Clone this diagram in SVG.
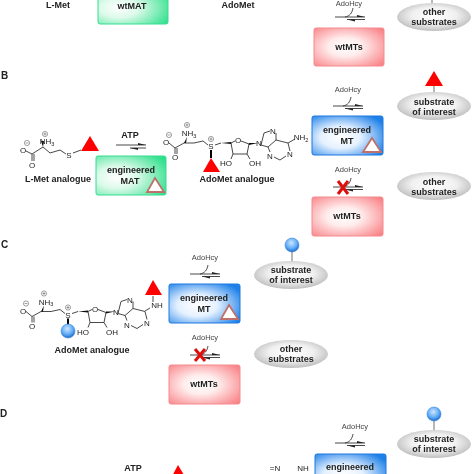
<svg xmlns="http://www.w3.org/2000/svg" xmlns:xlink="http://www.w3.org/1999/xlink" width="474" height="474" viewBox="0 0 474 474">
<style>
.t{font:bold 9px "Liberation Sans",Arial,sans-serif;fill:#222;text-anchor:middle}
.p{font:bold 10px "Liberation Sans",Arial,sans-serif;fill:#222}
.s{font:7.5px "Liberation Sans",Arial,sans-serif;fill:#444;text-anchor:middle}
.a{font:8px "Liberation Sans",Arial,sans-serif;fill:#222;text-anchor:middle}
.b{fill:none;stroke:#333;stroke-width:.9}
.line{fill:none;stroke:#333;stroke-width:.9}
.stem{stroke:#999;stroke-width:1.4}
.red{fill:#f00}
.tri{fill:#fff;stroke:#c0706a;stroke-width:1.8}
.x{fill:none;stroke:#e01010;stroke-width:3}
.bg{stroke:#38dc90;stroke-width:1}
.br{stroke:#f58a8e;stroke-width:1}
.bb{stroke:#1e78e0;stroke-width:1}
</style>
<defs>
<filter id="soft" x="0" y="0" width="1" height="1" filterUnits="objectBoundingBox"><feGaussianBlur stdDeviation="0.4"/></filter>
<radialGradient id="gGreen" cx=".3" cy=".55" r=".8"><stop offset="0" stop-color="#fff"/><stop offset=".35" stop-color="#dcfaea"/><stop offset="1" stop-color="#2fe08c"/></radialGradient>
<radialGradient id="gRed" cx=".45" cy=".5" r=".7"><stop offset="0" stop-color="#fff"/><stop offset=".35" stop-color="#ffecec"/><stop offset="1" stop-color="#f98085"/></radialGradient>
<radialGradient id="gBlue" cx=".4" cy=".55" r=".7"><stop offset="0" stop-color="#fff"/><stop offset=".4" stop-color="#e4f1ff"/><stop offset="1" stop-color="#1e80e8"/></radialGradient>
<radialGradient id="gGray" cx=".5" cy=".45" r=".55"><stop offset="0" stop-color="#fff"/><stop offset=".55" stop-color="#f0f0f0"/><stop offset="1" stop-color="#bfbfbf"/></radialGradient>
<radialGradient id="gBall" cx=".45" cy=".35" r=".6"><stop offset="0" stop-color="#cfe6ff"/><stop offset=".7" stop-color="#5aa8f5"/><stop offset="1" stop-color="#2a74d0"/></radialGradient>
<g id="arrow">
<path class="line" d="M0 0H20L30 0M30 2.5H12"/>
<path d="M30 0l-8-2v2zM12 2.5l8 2v-2z" fill="#222"/>
<path class="line" d="M10 0C15 -1 17 -4 18 -9"/>
</g>
<g id="arrowAtp">
<path class="line" d="M0 0H30M30 3H14"/>
<path d="M30 0l-8-2v2zM14 3l8 2v-2z" fill="#222"/>
</g>
<g id="ball"><circle r="7" fill="url(#gBall)" stroke="#3a86dd" stroke-width=".6"/></g>
<g id="minus"><circle r="2.6" fill="none" stroke="#444" stroke-width=".5"/><path d="M-1.5 0H1.5" stroke="#444" stroke-width=".5"/></g>
<g id="plus"><circle r="2.6" fill="none" stroke="#444" stroke-width=".5"/><path d="M-1.5 0H1.5M0 -1.5V1.5" stroke="#444" stroke-width=".5"/></g>
<g id="adomet">
<path class="b" d="M169 143L175 148L184 143L194 143L203 141L208 145M175 148V154M177 148V154M215 145L221 143M231 143L235 141M241 141L249 144M231 143L233 154L247 154L249 144M233 154L231 159M247 154L250 159M264 133L270 131M276 133L276 140L268 147L261 145L264 133M268 147L270 152M274 157L280 160L286 156M290 151L288 143L276 140"/>
<path d="M221 143L231 142L231 144zM249 143L258 143L249 145zM184 143L187 137L186 143z" fill="#111"/>
<path d="M211 150V158" stroke="#000" stroke-width="2"/>
<text class="a" x="166" y="145">O</text>
<text class="a" x="175" y="160">O</text>
<text class="a" x="189" y="136">NH<tspan font-size="5.5" dy="1.5">3</tspan></text>
<text class="a" x="211" y="149">S</text>
<text class="a" x="238" y="143">O</text>
<text class="a" x="259" y="146">N</text>
<text class="a" x="273" y="134">N</text>
<text class="a" x="270" y="159">N</text>
<text class="a" x="290" y="157">N</text>
<text class="a" x="226" y="166">HO</text>
<text class="a" x="255" y="166">OH</text>
<use xlink:href="#minus" href="#minus" x="169" y="135"/>
<use xlink:href="#plus" href="#plus" x="187" y="125"/>
<use xlink:href="#plus" href="#plus" x="211" y="139"/>
</g>
</defs>
<rect width="474" height="474" fill="#fff"/>
<g filter="url(#soft)">
<rect width="474" height="474" fill="#fff"/>

<g id="labels">
<text class="p" x="1" y="79">B</text>
<text class="p" x="1" y="248">C</text>
<text class="p" x="0" y="417">D</text>
</g>

<g id="connectors">
<use xlink:href="#arrow" href="#arrow" x="335" y="17"/>
<path class="stem" d="M432 0V5"/>
<use xlink:href="#arrowAtp" href="#arrowAtp" x="116" y="145"/>
<use xlink:href="#arrow" href="#arrow" x="333" y="106"/>
<path class="stem" d="M434 86V95"/>
<use xlink:href="#arrow" href="#arrow" x="333" y="187"/>
<use xlink:href="#arrow" href="#arrow" x="190" y="274"/>
<path class="stem" d="M292 250V262"/>
<use xlink:href="#arrow" href="#arrow" x="190" y="355"/>
<use xlink:href="#arrow" href="#arrow" x="335" y="443"/>
<path class="stem" d="M434 420V432"/>
</g>

<g id="panelA">
<text class="t" x="58" y="8">L-Met</text>
<g id="wtMAT"><rect class="bg" x="98" y="-12" width="70" height="36" rx="2" fill="url(#gGreen)"/><text class="t" x="132" y="9">wtMAT</text></g>
<text class="t" x="238" y="8">AdoMet</text>
<text class="s" x="349" y="6">AdoHcy</text>
<g id="wtMTsA"><rect class="br" x="314" y="28" width="70" height="38" rx="2" fill="url(#gRed)"/><text class="t" x="349" y="50">wtMTs</text></g>
<g id="otherA"><ellipse cx="434" cy="17" rx="37" ry="14" fill="url(#gGray)"/><text class="t" x="434" y="15">other</text><text class="t" x="434" y="25">substrates</text></g>
</g>

<g id="panelB">
<g id="lmetAnalogue">
<path class="b" d="M26 151L32 154L43 147L50 153L60 150L66 154M32 154V161M34 154V161M73 153L81 150"/>
<path d="M43 147L41 141L44 141z" fill="#111"/>
<text class="a" x="23" y="153">O</text>
<text class="a" x="32" y="168">O</text>
<text class="a" x="47" y="144">NH<tspan font-size="5.5" dy="1.5">3</tspan></text>
<text class="a" x="69" y="158">S</text>
<use xlink:href="#minus" href="#minus" x="27" y="143"/>
<use xlink:href="#plus" href="#plus" x="45" y="134"/>
<path class="red" d="M90 136L81 151H99z"/>
<text class="t" x="58" y="182">L-Met analogue</text>
</g>
<text class="t" x="130" y="138">ATP</text>
<g id="engMAT"><rect class="bg" x="96" y="156" width="70" height="39" rx="2" fill="url(#gGreen)"/><text class="t" x="131" y="173">engineered</text><text class="t" x="130" y="184">MAT</text><path class="tri" d="M155 178L147 192H164z"/></g>
<g id="adometB">
<use xlink:href="#adomet" href="#adomet"/>
<path class="b" d="M288 143L295 139"/>
<text class="a" x="301" y="140">NH<tspan font-size="5.5" dy="1.5">2</tspan></text>
<path class="red" d="M211 158L203 172H220z"/>
<text class="t" x="237" y="182">AdoMet analogue</text>
</g>
<text class="s" x="348" y="92">AdoHcy</text>
<g id="engMTB"><rect class="bb" x="312" y="116" width="71" height="39" rx="2" fill="url(#gBlue)"/><text class="t" x="347" y="133">engineered</text><text class="t" x="347" y="144">MT</text><path class="tri" d="M372 138L363 152H381z"/></g>
<text class="s" x="348" y="172">AdoHcy</text>
<path class="x" d="M338 181L348 194M348 181L338 194"/>
<g id="wtMTsB"><rect class="br" x="312" y="197" width="71" height="39" rx="2" fill="url(#gRed)"/><text class="t" x="347" y="219">wtMTs</text></g>
<path class="red" d="M434 71L425 86H443z"/>
<g id="subB"><ellipse cx="434" cy="106" rx="37" ry="14" fill="url(#gGray)"/><text class="t" x="434" y="105">substrate</text><text class="t" x="434" y="115">of interest</text></g>
<g id="otherB"><ellipse cx="434" cy="186" rx="37" ry="14" fill="url(#gGray)"/><text class="t" x="434" y="185">other</text><text class="t" x="434" y="195">substrates</text></g>
</g>

<g id="panelC">
<g id="adometC">
<use xlink:href="#adomet" href="#adomet" transform="translate(-143 168.5)"/>
<path class="b" d="M145 311L150 308M153 296V302"/>
<text class="a" x="157" y="308">NH</text>
<path class="red" d="M153 280L145 295H162z"/>
<use xlink:href="#ball" href="#ball" x="68" y="331"/>
<text class="t" x="92" y="353">AdoMet analogue</text>
</g>
<text class="s" x="205" y="260">AdoHcy</text>
<g id="engMTC"><rect class="bb" x="169" y="284" width="71" height="39" rx="2" fill="url(#gBlue)"/><text class="t" x="204" y="301">engineered</text><text class="t" x="204" y="312">MT</text><path class="tri" d="M229 305L221 319H238z"/></g>
<text class="s" x="205" y="340">AdoHcy</text>
<path class="x" d="M195 349L205 361M205 349L195 361"/>
<g id="wtMTsC"><rect class="br" x="169" y="365" width="71" height="39" rx="2" fill="url(#gRed)"/><text class="t" x="204" y="387">wtMTs</text></g>
<use xlink:href="#ball" href="#ball" x="292" y="245"/>
<g id="subC"><ellipse cx="291" cy="275" rx="37" ry="14" fill="url(#gGray)"/><text class="t" x="291" y="273">substrate</text><text class="t" x="291" y="283">of interest</text></g>
<g id="otherC"><ellipse cx="291" cy="354" rx="37" ry="14" fill="url(#gGray)"/><text class="t" x="291" y="352">other</text><text class="t" x="291" y="362">substrates</text></g>
</g>

<g id="panelD">
<text class="t" x="133" y="471">ATP</text>
<path class="red" d="M178 465L170 480H187z"/>
<text class="a" x="275" y="471">=N</text>
<text class="a" x="303" y="471">NH</text>
<text class="s" x="355" y="429">AdoHcy</text>
<g id="engMTD"><rect class="bb" x="315" y="454" width="71" height="39" rx="2" fill="url(#gBlue)"/><text class="t" x="350" y="470">engineered</text></g>
<use xlink:href="#ball" href="#ball" x="434" y="414"/>
<g id="subD"><ellipse cx="434" cy="444" rx="37" ry="14" fill="url(#gGray)"/><text class="t" x="434" y="442">substrate</text><text class="t" x="434" y="452">of interest</text></g>
</g>
</g>
</svg>
